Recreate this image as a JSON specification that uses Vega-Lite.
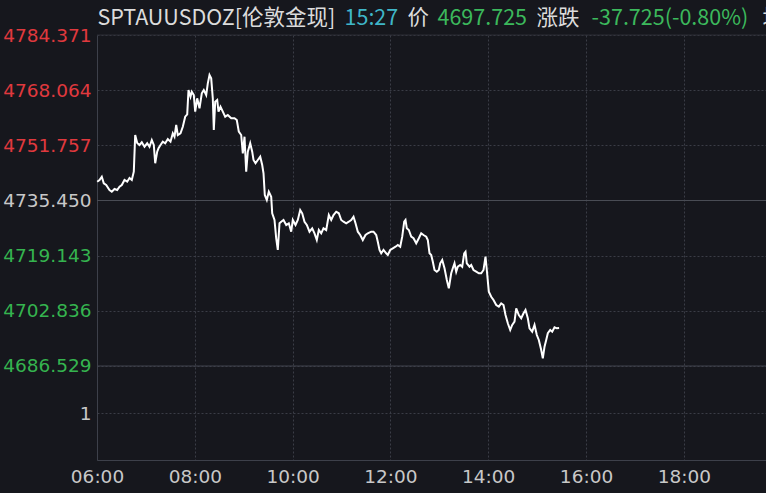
{
  "$schema": "https://vega.github.io/schema/vega-lite/v6.json",
  "width": 669,
  "height": 425,
  "autosize": {"type": "none"},
  "padding": {"left": 97, "top": 35, "right": 0, "bottom": 33},
  "background": "#16171d",
  "config": {"view": {"stroke": null}, "font": "DejaVu Sans"},
  "datasets": {
    "levels": [
      {"level": 4784.371, "kind": "top"},
      {"level": 4735.45, "kind": "prev"},
      {"level": 4686.529, "kind": "split"}
    ],
    "header": [
      {"part": "SPTAUUSDOZ[伦敦金现]", "role": "name"},
      {"part": "15:27", "role": "time"},
      {"part": "价", "role": "label"},
      {"part": "4697.725", "role": "down"},
      {"part": "涨跌", "role": "label"},
      {"part": "-37.725(-0.80%)", "role": "down"},
      {"part": "均", "role": "label"}
    ],
    "price": [
      {"time":"2024-01-01T06:00:15","price":4741.01},
      {"time":"2024-01-01T06:03:04","price":4741.51},
      {"time":"2024-01-01T06:05:53","price":4742.49},
      {"time":"2024-01-01T06:08:20","price":4740.53},
      {"time":"2024-01-01T06:11:17","price":4740.03},
      {"time":"2024-01-01T06:15:20","price":4738.55},
      {"time":"2024-01-01T06:18:10","price":4738.05},
      {"time":"2024-01-01T06:21:28","price":4738.85},
      {"time":"2024-01-01T06:24:47","price":4738.55},
      {"time":"2024-01-01T06:27:37","price":4739.53},
      {"time":"2024-01-01T06:30:26","price":4740.03},
      {"time":"2024-01-01T06:33:44","price":4741.51},
      {"time":"2024-01-01T06:37:04","price":4741.01},
      {"time":"2024-01-01T06:39:53","price":4742.10},
      {"time":"2024-01-01T06:42:42","price":4741.51},
      {"time":"2024-01-01T06:45:09","price":4743.96},
      {"time":"2024-01-01T06:46:52","price":4754.81},
      {"time":"2024-01-01T06:49:20","price":4752.45},
      {"time":"2024-01-01T06:52:09","price":4751.86},
      {"time":"2024-01-01T06:54:58","price":4752.65},
      {"time":"2024-01-01T06:58:17","price":4751.35},
      {"time":"2024-01-01T07:01:36","price":4752.36},
      {"time":"2024-01-01T07:04:25","price":4751.35},
      {"time":"2024-01-01T07:07:14","price":4753.33},
      {"time":"2024-01-01T07:09:41","price":4751.86},
      {"time":"2024-01-01T07:11:25","price":4746.45},
      {"time":"2024-01-01T07:13:52","price":4749.88},
      {"time":"2024-01-01T07:15:28","price":4750.88},
      {"time":"2024-01-01T07:17:55","price":4751.86},
      {"time":"2024-01-01T07:20:44","price":4752.83},
      {"time":"2024-01-01T07:23:41","price":4752.36},
      {"time":"2024-01-01T07:26:52","price":4753.63},
      {"time":"2024-01-01T07:30:11","price":4752.83},
      {"time":"2024-01-01T07:33:01","price":4755.31},
      {"time":"2024-01-01T07:35:05","price":4754.31},
      {"time":"2024-01-01T07:37:11","price":4757.77},
      {"time":"2024-01-01T07:39:08","price":4754.81},
      {"time":"2024-01-01T07:42:27","price":4755.31},
      {"time":"2024-01-01T07:45:17","price":4757.26},
      {"time":"2024-01-01T07:48:13","price":4760.22},
      {"time":"2024-01-01T07:50:41","price":4760.93},
      {"time":"2024-01-01T07:52:16","price":4768.11},
      {"time":"2024-01-01T07:54:43","price":4766.13},
      {"time":"2024-01-01T07:56:19","price":4767.61},
      {"time":"2024-01-01T07:58:46","price":4766.63},
      {"time":"2024-01-01T08:00:29","price":4761.70},
      {"time":"2024-01-01T08:02:57","price":4765.66},
      {"time":"2024-01-01T08:05:46","price":4762.70},
      {"time":"2024-01-01T08:08:35","price":4767.14},
      {"time":"2024-01-01T08:11:02","price":4768.11},
      {"time":"2024-01-01T08:13:59","price":4766.63},
      {"time":"2024-01-01T08:15:57","price":4770.09},
      {"time":"2024-01-01T08:18:02","price":4772.55},
      {"time":"2024-01-01T08:20:07","price":4771.57},
      {"time":"2024-01-01T08:22:05","price":4765.66},
      {"time":"2024-01-01T08:23:19","price":4756.29},
      {"time":"2024-01-01T08:25:02","price":4764.65},
      {"time":"2024-01-01T08:27:29","price":4765.16},
      {"time":"2024-01-01T08:29:05","price":4761.70},
      {"time":"2024-01-01T08:31:32","price":4763.18},
      {"time":"2024-01-01T08:34:22","price":4761.70},
      {"time":"2024-01-01T08:37:18","price":4760.22},
      {"time":"2024-01-01T08:40:29","price":4760.72},
      {"time":"2024-01-01T08:44:40","price":4759.75},
      {"time":"2024-01-01T08:48:43","price":4759.75},
      {"time":"2024-01-01T08:51:32","price":4759.24},
      {"time":"2024-01-01T08:53:59","price":4755.79},
      {"time":"2024-01-01T08:56:56","price":4754.81},
      {"time":"2024-01-01T08:58:54","price":4749.40},
      {"time":"2024-01-01T09:00:59","price":4754.31},
      {"time":"2024-01-01T09:03:04","price":4743.96},
      {"time":"2024-01-01T09:05:02","price":4749.88},
      {"time":"2024-01-01T09:07:59","price":4752.36},
      {"time":"2024-01-01T09:10:26","price":4749.88},
      {"time":"2024-01-01T09:12:02","price":4747.42},
      {"time":"2024-01-01T09:14:29","price":4746.45},
      {"time":"2024-01-01T09:17:18","price":4747.42},
      {"time":"2024-01-01T09:20:15","price":4748.40},
      {"time":"2024-01-01T09:22:42","price":4745.94},
      {"time":"2024-01-01T09:24:18","price":4743.49},
      {"time":"2024-01-01T09:25:53","price":4737.08},
      {"time":"2024-01-01T09:28:20","price":4735.60},
      {"time":"2024-01-01T09:30:48","price":4738.05},
      {"time":"2024-01-01T09:33:44","price":4736.57},
      {"time":"2024-01-01T09:34:58","price":4731.67},
      {"time":"2024-01-01T09:37:47","price":4729.69},
      {"time":"2024-01-01T09:39:53","price":4724.28},
      {"time":"2024-01-01T09:41:50","price":4720.82},
      {"time":"2024-01-01T09:43:56","price":4728.71},
      {"time":"2024-01-01T09:46:01","price":4729.18},
      {"time":"2024-01-01T09:48:50","price":4729.69},
      {"time":"2024-01-01T09:52:09","price":4728.21},
      {"time":"2024-01-01T09:55:20","price":4728.71},
      {"time":"2024-01-01T09:58:17","price":4726.23},
      {"time":"2024-01-01T10:00:15","price":4729.69},
      {"time":"2024-01-01T10:03:34","price":4728.21},
      {"time":"2024-01-01T10:06:23","price":4729.69},
      {"time":"2024-01-01T10:09:20","price":4732.64},
      {"time":"2024-01-01T10:11:47","price":4731.67},
      {"time":"2024-01-01T10:14:36","price":4729.18},
      {"time":"2024-01-01T10:17:26","price":4728.21},
      {"time":"2024-01-01T10:20:44","price":4726.23},
      {"time":"2024-01-01T10:24:03","price":4727.23},
      {"time":"2024-01-01T10:26:52","price":4725.75},
      {"time":"2024-01-01T10:29:41","price":4723.77},
      {"time":"2024-01-01T10:32:09","price":4726.73},
      {"time":"2024-01-01T10:35:05","price":4725.75},
      {"time":"2024-01-01T10:37:55","price":4727.23},
      {"time":"2024-01-01T10:41:14","price":4726.73},
      {"time":"2024-01-01T10:44:25","price":4731.16},
      {"time":"2024-01-01T10:47:22","price":4729.69},
      {"time":"2024-01-01T10:50:11","price":4731.16},
      {"time":"2024-01-01T10:53:30","price":4732.14},
      {"time":"2024-01-01T10:56:41","price":4731.67},
      {"time":"2024-01-01T10:59:38","price":4729.69},
      {"time":"2024-01-01T11:02:28","price":4729.18},
      {"time":"2024-01-01T11:05:46","price":4728.71},
      {"time":"2024-01-01T11:08:58","price":4729.18},
      {"time":"2024-01-01T11:11:54","price":4729.69},
      {"time":"2024-01-01T11:14:44","price":4730.66},
      {"time":"2024-01-01T11:17:11","price":4728.71},
      {"time":"2024-01-01T11:20:00","price":4726.23},
      {"time":"2024-01-01T11:22:57","price":4725.25},
      {"time":"2024-01-01T11:26:08","price":4723.77},
      {"time":"2024-01-01T11:29:27","price":4725.25},
      {"time":"2024-01-01T11:32:16","price":4725.75},
      {"time":"2024-01-01T11:36:26","price":4726.23},
      {"time":"2024-01-01T11:39:16","price":4726.23},
      {"time":"2024-01-01T11:42:35","price":4725.25},
      {"time":"2024-01-01T11:44:32","price":4723.27},
      {"time":"2024-01-01T11:46:38","price":4720.82},
      {"time":"2024-01-01T11:48:43","price":4719.84},
      {"time":"2024-01-01T11:51:32","price":4720.82},
      {"time":"2024-01-01T11:54:51","price":4719.84},
      {"time":"2024-01-01T11:56:49","price":4719.34},
      {"time":"2024-01-01T11:59:46","price":4720.82},
      {"time":"2024-01-01T12:02:57","price":4721.32},
      {"time":"2024-01-01T12:06:16","price":4721.79},
      {"time":"2024-01-01T12:09:05","price":4722.30},
      {"time":"2024-01-01T12:12:02","price":4721.79},
      {"time":"2024-01-01T12:14:29","price":4724.75},
      {"time":"2024-01-01T12:16:56","price":4729.18},
      {"time":"2024-01-01T12:18:32","price":4729.69},
      {"time":"2024-01-01T12:20:07","price":4727.23},
      {"time":"2024-01-01T12:22:35","price":4726.73},
      {"time":"2024-01-01T12:25:31","price":4724.75},
      {"time":"2024-01-01T12:28:21","price":4724.28},
      {"time":"2024-01-01T12:31:40","price":4722.80},
      {"time":"2024-01-01T12:34:51","price":4724.28},
      {"time":"2024-01-01T12:37:47","price":4725.75},
      {"time":"2024-01-01T12:40:37","price":4725.25},
      {"time":"2024-01-01T12:43:56","price":4724.75},
      {"time":"2024-01-01T12:45:53","price":4723.77},
      {"time":"2024-01-01T12:47:59","price":4719.84},
      {"time":"2024-01-01T12:50:04","price":4719.34},
      {"time":"2024-01-01T12:52:02","price":4717.36},
      {"time":"2024-01-01T12:54:07","price":4714.91},
      {"time":"2024-01-01T12:56:56","price":4714.40},
      {"time":"2024-01-01T12:59:23","price":4714.91},
      {"time":"2024-01-01T13:01:07","price":4716.89},
      {"time":"2024-01-01T13:03:34","price":4717.86},
      {"time":"2024-01-01T13:06:23","price":4715.41},
      {"time":"2024-01-01T13:09:13","price":4711.95},
      {"time":"2024-01-01T13:11:40","price":4709.50},
      {"time":"2024-01-01T13:14:36","price":4713.93},
      {"time":"2024-01-01T13:16:34","price":4715.41},
      {"time":"2024-01-01T13:18:39","price":4716.89},
      {"time":"2024-01-01T13:20:44","price":4714.40},
      {"time":"2024-01-01T13:22:42","price":4715.88},
      {"time":"2024-01-01T13:25:39","price":4716.39},
      {"time":"2024-01-01T13:28:06","price":4715.88},
      {"time":"2024-01-01T13:30:33","price":4719.84},
      {"time":"2024-01-01T13:32:09","price":4720.32},
      {"time":"2024-01-01T13:33:44","price":4716.89},
      {"time":"2024-01-01T13:37:04","price":4715.88},
      {"time":"2024-01-01T13:39:08","price":4716.39},
      {"time":"2024-01-01T13:41:58","price":4714.91},
      {"time":"2024-01-01T13:45:17","price":4714.40},
      {"time":"2024-01-01T13:48:28","price":4713.93},
      {"time":"2024-01-01T13:51:25","price":4713.93},
      {"time":"2024-01-01T13:54:14","price":4714.91},
      {"time":"2024-01-01T13:56:41","price":4718.84},
      {"time":"2024-01-01T13:58:17","price":4714.91},
      {"time":"2024-01-01T14:00:44","price":4708.49},
      {"time":"2024-01-01T14:03:41","price":4707.01},
      {"time":"2024-01-01T14:06:31","price":4706.04},
      {"time":"2024-01-01T14:09:49","price":4704.56},
      {"time":"2024-01-01T14:13:01","price":4704.06},
      {"time":"2024-01-01T14:15:57","price":4705.06},
      {"time":"2024-01-01T14:18:47","price":4704.56},
      {"time":"2024-01-01T14:21:14","price":4701.60},
      {"time":"2024-01-01T14:24:03","price":4699.15},
      {"time":"2024-01-01T14:27:00","price":4697.17},
      {"time":"2024-01-01T14:29:27","price":4698.65},
      {"time":"2024-01-01T14:32:16","price":4699.63},
      {"time":"2024-01-01T14:34:22","price":4703.59},
      {"time":"2024-01-01T14:37:33","price":4701.60},
      {"time":"2024-01-01T14:40:29","price":4700.63},
      {"time":"2024-01-01T14:43:19","price":4702.11},
      {"time":"2024-01-01T14:45:46","price":4703.08},
      {"time":"2024-01-01T14:48:35","price":4700.63},
      {"time":"2024-01-01T14:50:41","price":4697.67},
      {"time":"2024-01-01T14:53:59","price":4696.67},
      {"time":"2024-01-01T14:56:49","price":4698.65},
      {"time":"2024-01-01T14:59:38","price":4695.69},
      {"time":"2024-01-01T15:02:05","price":4694.22},
      {"time":"2024-01-01T15:05:02","price":4691.26},
      {"time":"2024-01-01T15:07:00","price":4688.81},
      {"time":"2024-01-01T15:09:05","price":4692.23},
      {"time":"2024-01-01T15:11:10","price":4694.22},
      {"time":"2024-01-01T15:13:08","price":4696.20},
      {"time":"2024-01-01T15:16:05","price":4697.17},
      {"time":"2024-01-01T15:18:32","price":4696.67},
      {"time":"2024-01-01T15:21:21","price":4697.97},
      {"time":"2024-01-01T15:24:10","price":4697.67},
      {"time":"2024-01-01T15:27:00","price":4697.725}
    ]
  },
  "layer": [
    {
      "data": {"name": "levels"},
      "mark": {"type": "rule", "strokeWidth": 1},
      "encoding": {
        "y": {
          "field": "level",
          "type": "quantitative",
          "scale": {"domain": [4658.74, 4784.371], "zero": false, "nice": false},
          "axis": {
            "title": null,
            "values": [4784.371, 4768.064, 4751.757, 4735.45, 4719.143, 4702.836, 4686.529, 4672.55],
            "labelExpr": "datum.value < 4680 ? '1' : format(datum.value, '.3f')",
            "grid": true,
            "gridColor": "#3a3d46",
            "gridDash": [2, 2],
            "ticks": false,
            "domain": true,
            "domainColor": "#3d404a",
            "labelFont": "DejaVu Sans",
            "labelFontSize": 18.5,
            "labelPadding": 6,
            "labelFlush": false,
            "labelOverlap": false,
            "labelBound": false,
            "labelColor": {
              "condition": [
                {"test": "datum.value > 4736", "value": "#e0393e"},
                {"test": "datum.value < 4735 && datum.value > 4680", "value": "#35b44f"}
              ],
              "value": "#c8c8c8"
            }
          }
        },
        "color": {
          "field": "kind",
          "type": "nominal",
          "scale": {"domain": ["top", "prev", "split"], "range": ["#2c2e36", "#4a4d56", "#40434c"]},
          "legend": null
        }
      }
    },
    {
      "data": {"name": "price"},
      "mark": {"type": "line", "color": "#ffffff", "strokeWidth": 2},
      "encoding": {
        "x": {
          "field": "time",
          "type": "temporal",
          "scale": {"domain": [
            {"year": 2024, "month": 1, "date": 1, "hours": 6, "minutes": 0},
            {"year": 2024, "month": 1, "date": 1, "hours": 19, "minutes": 40, "seconds": 50}
          ]},
          "axis": {
            "title": null,
            "values": [
              {"year": 2024, "month": 1, "date": 1, "hours": 6},
              {"year": 2024, "month": 1, "date": 1, "hours": 8},
              {"year": 2024, "month": 1, "date": 1, "hours": 10},
              {"year": 2024, "month": 1, "date": 1, "hours": 12},
              {"year": 2024, "month": 1, "date": 1, "hours": 14},
              {"year": 2024, "month": 1, "date": 1, "hours": 16},
              {"year": 2024, "month": 1, "date": 1, "hours": 18}
            ],
            "format": "%H:%M",
            "grid": true,
            "gridColor": "#3a3d46",
            "gridDash": [2, 2],
            "ticks": false,
            "domain": true,
            "domainColor": "#3d404a",
            "labelColor": "#c8c8c8",
            "labelFont": "DejaVu Sans",
            "labelFontSize": 18.5,
            "labelPadding": 7,
            "labelFlush": false,
            "labelOverlap": false
          }
        },
        "y": {"field": "price", "type": "quantitative"}
      }
    },
    {
      "data": {"name": "header"},
      "transform": [{"filter": "datum.role == 'name'"}],
      "mark": {"type": "text", "align": "left", "baseline": "middle", "font": "Noto Sans CJK SC", "fontSize": 21.5, "color": "#dcdcdc"},
      "encoding": {
        "text": {"field": "part"},
        "x": {"datum": {"year": 2024, "month": 1, "date": 1, "hours": 6, "minutes": 0, "seconds": 30}, "type": "temporal"},
        "y": {"datum": 4789.2, "type": "quantitative"}
      }
    },
    {
      "data": {"name": "header"},
      "transform": [{"filter": "datum.role == 'time'"}],
      "mark": {"type": "text", "align": "left", "baseline": "middle", "font": "Noto Sans CJK SC", "fontSize": 21.5, "color": "#3fb6c8"},
      "encoding": {
        "text": {"field": "part"},
        "x": {"datum": {"year": 2024, "month": 1, "date": 1, "hours": 11, "minutes": 3, "seconds": 42}, "type": "temporal"},
        "y": {"datum": 4789.2, "type": "quantitative"}
      }
    },
    {
      "data": {"name": "header"},
      "transform": [{"filter": "datum.part == '价'"}],
      "mark": {"type": "text", "align": "left", "baseline": "middle", "font": "Noto Sans CJK SC", "fontSize": 21.5, "color": "#dcdcdc"},
      "encoding": {
        "text": {"field": "part"},
        "x": {"datum": {"year": 2024, "month": 1, "date": 1, "hours": 12, "minutes": 21, "seconds": 0}, "type": "temporal"},
        "y": {"datum": 4789.2, "type": "quantitative"}
      }
    },
    {
      "data": {"name": "header"},
      "transform": [{"filter": "datum.part == '4697.725'"}],
      "mark": {"type": "text", "align": "left", "baseline": "middle", "font": "Noto Sans CJK SC", "fontSize": 21.5, "color": "#3cb95c"},
      "encoding": {
        "text": {"field": "part"},
        "x": {"datum": {"year": 2024, "month": 1, "date": 1, "hours": 12, "minutes": 57, "seconds": 47}, "type": "temporal"},
        "y": {"datum": 4789.2, "type": "quantitative"}
      }
    },
    {
      "data": {"name": "header"},
      "transform": [{"filter": "datum.part == '涨跌'"}],
      "mark": {"type": "text", "align": "left", "baseline": "middle", "font": "Noto Sans CJK SC", "fontSize": 21.5, "color": "#dcdcdc"},
      "encoding": {
        "text": {"field": "part"},
        "x": {"datum": {"year": 2024, "month": 1, "date": 1, "hours": 14, "minutes": 59, "seconds": 18}, "type": "temporal"},
        "y": {"datum": 4789.2, "type": "quantitative"}
      }
    },
    {
      "data": {"name": "header"},
      "transform": [{"filter": "datum.part == '-37.725(-0.80%)'"}],
      "mark": {"type": "text", "align": "left", "baseline": "middle", "font": "Noto Sans CJK SC", "fontSize": 21.5, "color": "#3cb95c"},
      "encoding": {
        "text": {"field": "part"},
        "x": {"datum": {"year": 2024, "month": 1, "date": 1, "hours": 16, "minutes": 6, "seconds": 48}, "type": "temporal"},
        "y": {"datum": 4789.2, "type": "quantitative"}
      }
    },
    {
      "data": {"name": "header"},
      "transform": [{"filter": "datum.part == '均'"}],
      "mark": {"type": "text", "align": "left", "baseline": "middle", "font": "Noto Sans CJK SC", "fontSize": 21.5, "color": "#dcdcdc"},
      "encoding": {
        "text": {"field": "part"},
        "x": {"datum": {"year": 2024, "month": 1, "date": 1, "hours": 19, "minutes": 36, "seconds": 30}, "type": "temporal"},
        "y": {"datum": 4789.2, "type": "quantitative"}
      }
    }
  ]
}
